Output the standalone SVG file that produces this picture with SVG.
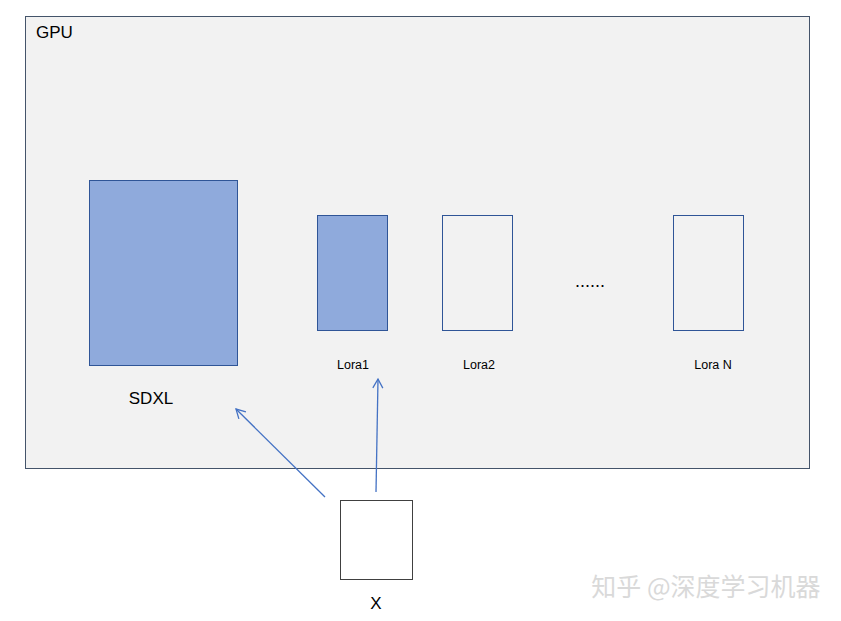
<svg xmlns="http://www.w3.org/2000/svg" width="841" height="621" viewBox="0 0 841 621">
<style>
text{font-family:"Liberation Sans",Arial,sans-serif;fill:#000}
.filled{fill:#8faadc;stroke:#2f5597;stroke-width:1}
.empty{fill:#f2f2f2;stroke:#2f5597;stroke-width:1}
.conn{stroke:#4472c4;stroke-width:1.3;fill:none}
</style>
<defs>
<marker id="ah" markerWidth="12" markerHeight="12" refX="10" refY="6" orient="auto" markerUnits="userSpaceOnUse">
<path d="M1,1 L10,6 L1,11" fill="none" stroke="#4472c4" stroke-width="1.3"/>
</marker>
</defs>
<rect width="841" height="621" fill="#fff"/>
<g id="gpu">
<rect x="25.5" y="16.5" width="784" height="452" fill="#f2f2f2" stroke="#44546a" stroke-width="1"/>
<text x="36" y="38" font-size="17">GPU</text>
</g>
<g id="sdxl">
<rect class="filled" x="89.5" y="180.5" width="148" height="185"/>
<text x="151" y="404" font-size="17" text-anchor="middle">SDXL</text>
</g>
<g id="lora1">
<rect class="filled" x="317.5" y="215.5" width="70" height="115"/>
<text x="353" y="369" font-size="12.5" text-anchor="middle">Lora1</text>
</g>
<g id="lora2">
<rect class="empty" x="442.5" y="215.5" width="70" height="115"/>
<text x="479" y="369" font-size="12.5" text-anchor="middle">Lora2</text>
</g>
<g id="dots">
<text x="590" y="287" font-size="18" text-anchor="middle">......</text>
</g>
<g id="loraN">
<rect class="empty" x="673.5" y="215.5" width="70" height="115"/>
<text x="713" y="369" font-size="12.5" text-anchor="middle">Lora N</text>
</g>
<g id="x">
<rect x="340.5" y="500.5" width="72" height="79" fill="#fff" stroke="#404040" stroke-width="1"/>
<text x="376" y="609" font-size="17" text-anchor="middle">X</text>
</g>
<g id="connectors">
<line class="conn" x1="325" y1="497" x2="236" y2="409" marker-end="url(#ah)"/>
<line class="conn" x1="376" y1="492" x2="378" y2="379" marker-end="url(#ah)"/>
</g>
<text x="706" y="596" font-size="25" text-anchor="middle" style="font-family:'Noto Sans CJK SC',sans-serif;fill:#d9d9d9">知乎 @深度学习机器</text>
</svg>
